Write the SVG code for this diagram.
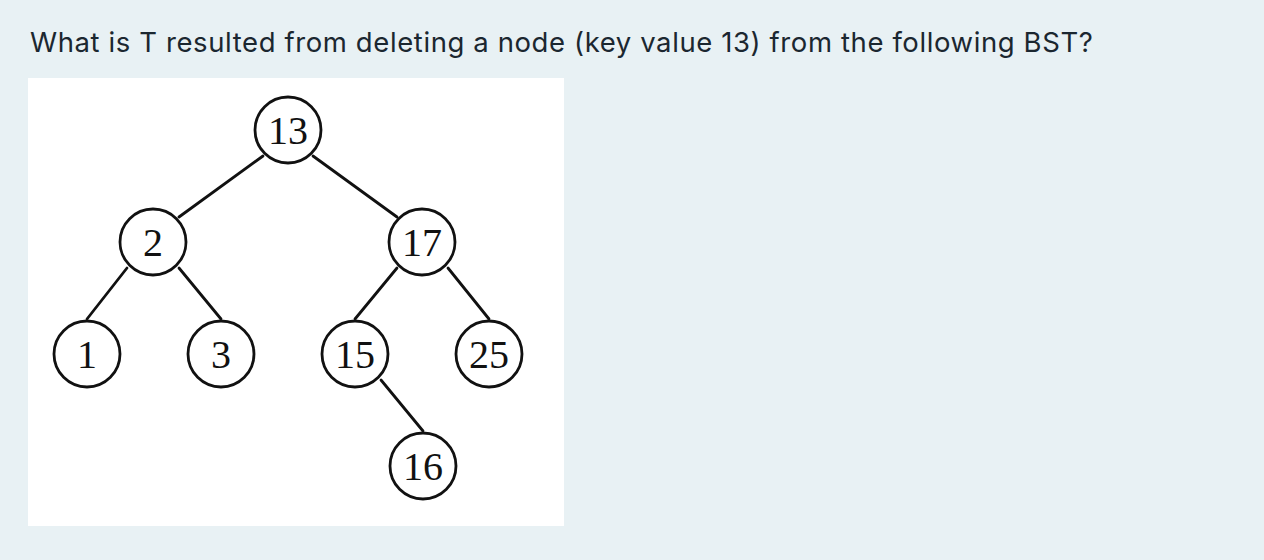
<svg xmlns="http://www.w3.org/2000/svg" width="1264" height="560" viewBox="0 0 1264 560">
<style>
.title{font-family:Inter,"Liberation Sans",sans-serif;font-size:27.5px;letter-spacing:0.6px;fill:#1b2730}
.node circle{fill:#fff;stroke:#111;stroke-width:2.8}
.node text{font-family:"Liberation Serif","DejaVu Serif",serif;font-size:40px;fill:#111;text-anchor:middle}
.edges line{stroke:#111;stroke-width:2.8;stroke-linecap:round}
</style>
<rect width="1264" height="560" fill="#e8f1f4"/>
<text class="title" x="30" y="52">What is T resulted from deleting a node (key value 13) from the following BST?</text>
<rect x="28" y="78" width="536" height="448" fill="#fff"/>
<g class="edges">
<line x1="263" y1="156" x2="179" y2="217"/>
<line x1="313" y1="156" x2="397" y2="217"/>
<line x1="127" y1="268" x2="87" y2="319"/>
<line x1="179" y1="268" x2="221" y2="319"/>
<line x1="397" y1="268" x2="355" y2="319"/>
<line x1="448" y1="268" x2="489" y2="319"/>
<line x1="381" y1="380" x2="423" y2="431"/>
</g>
<g id="n13" class="node"><circle cx="288" cy="130" r="33"/><text x="288" y="144">13</text></g>
<g id="n2" class="node"><circle cx="153" cy="242" r="33"/><text x="153" y="256">2</text></g>
<g id="n17" class="node"><circle cx="422" cy="242" r="33"/><text x="422" y="256">17</text></g>
<g id="n1" class="node"><circle cx="87" cy="354" r="33"/><text x="87" y="368">1</text></g>
<g id="n3" class="node"><circle cx="221" cy="354" r="33"/><text x="221" y="368">3</text></g>
<g id="n15" class="node"><circle cx="355" cy="354" r="33"/><text x="355" y="368">15</text></g>
<g id="n25" class="node"><circle cx="489" cy="354" r="33"/><text x="489" y="368">25</text></g>
<g id="n16" class="node"><circle cx="423" cy="466" r="33"/><text x="423" y="480">16</text></g>
</svg>
